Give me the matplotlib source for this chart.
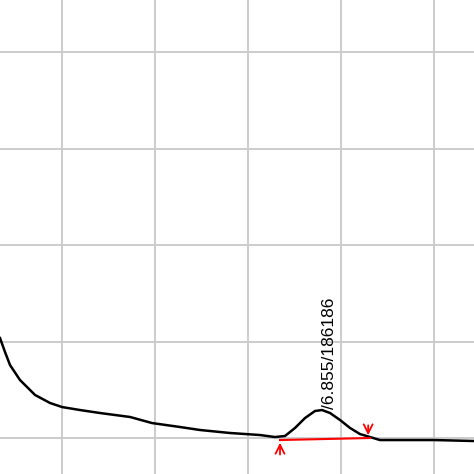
import matplotlib
matplotlib.use("Agg")
import matplotlib.pyplot as plt

t = [-0.667,-0.613,-0.559,-0.452,-0.290,-0.129,0.0,0.194,0.409,0.731,0.968,1.269,1.484,1.806,2.129,2.290,2.398,2.505,2.613,2.720,2.796,2.882,2.989,3.097,3.204,3.312,3.419,3.634,4.0,4.43]
sig = [1.036,0.891,0.756,0.601,0.446,0.363,0.321,0.290,0.259,0.218,0.155,0.114,0.083,0.052,0.031,0.010,0.021,0.104,0.207,0.280,0.290,0.259,0.187,0.104,0.041,0.010,-0.021,-0.021,-0.021,-0.031]
base_t = [2.344, 3.312]
base_y = [-0.021, 0.0]
label = "/6.855/186186"

fig = plt.figure(figsize=(4.74, 4.74), dpi=100)
ax = fig.add_axes([0, 0, 1, 1])
ax.set_xlim(-0.667, 4.43)
ax.set_ylim(-0.373, 4.54)
for s in ax.spines.values():
    s.set_visible(False)
ax.set_xticks([0, 1, 2, 3, 4])
ax.set_yticks([0, 1, 2, 3, 4])
ax.tick_params(length=0, labelbottom=False, labelleft=False)
ax.grid(True, color="#cccccc", linewidth=1.4)
ax.plot(t, sig, color="black", linewidth=1.8)
ax.plot(base_t, base_y, color="red", linewidth=1.5)
ax.annotate("", xy=(base_t[0], base_y[0]), xytext=(base_t[0], -0.2),
            arrowprops=dict(arrowstyle="->", color="red", lw=1.3, mutation_scale=16))
ax.annotate("", xy=(base_t[1]-0.02, base_y[1]), xytext=(base_t[1]-0.02, 0.16),
            arrowprops=dict(arrowstyle="->", color="red", lw=1.3, mutation_scale=16))
ax.text(2.88, 0.30, label, rotation=90, ha="center", va="bottom", fontsize=12.5,
        family="Liberation Sans")
fig.savefig("out.png", dpi=100)
